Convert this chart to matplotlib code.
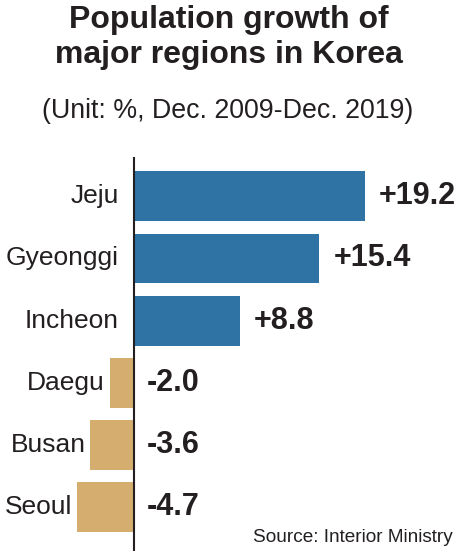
import matplotlib.pyplot as plt
import numpy as np

plt.rcParams.update({'font.family': ['Liberation Sans', 'DejaVu Sans']})

# ============================================================
# Data
# ============================================================
regions = ["Jeju", "Gyeonggi", "Incheon", "Daegu", "Busan", "Seoul"]
growth = [19.2, 15.4, 8.8, -2.0, -3.6, -4.7]
value_labels = ["+19.2", "+15.4", "+8.8", "-2.0", "-3.6", "-4.7"]

title_lines = ["Population growth of", "major regions in Korea"]
subtitle = "(Unit: %, Dec. 2009-Dec. 2019)"
source = "Source: Interior Ministry"

# ============================================================
# Style
# ============================================================
blue = "#2f72a4"
tan = "#d5ae6f"
ink = "#231f20"

fig = plt.figure(figsize=(4.58, 5.51), dpi=100)
ax = fig.add_axes([0, 0, 1, 1])

y = np.arange(len(regions))
colors = [blue if v > 0 else tan for v in growth]
ax.barh(y, growth, height=0.8, color=colors)

ax.set_xlim(-11.1, 26.9)
ax.set_ylim(5.703, -3.156)
ax.axis("off")

# vertical zero line
ax.axvline(0, ymin=0.002, ymax=0.713, color=ink, linewidth=1.5)

# category labels and values
for i, (name, v, lab) in enumerate(zip(regions, growth, value_labels)):
    left = min(v, 0)
    pad = -15 if v > 0 else -5
    ax.annotate(name, xy=(left, i), xytext=(pad, -7), textcoords="offset pixels",
                ha="right", va="baseline", fontsize=19, color=ink)
    right = max(v, 0)
    vpad = 14 if v > 0 else 13
    ax.annotate(lab, xy=(right, i), xytext=(vpad, -8), textcoords="offset pixels",
                ha="left", va="baseline", fontsize=22, fontweight="bold", color=ink)

# ============================================================
# Titles
# ============================================================
fig.text(0.5, 0.9486, title_lines[0], ha="center", va="baseline",
         fontsize=23, fontweight="bold", color=ink)
fig.text(0.5, 0.885, title_lines[1], ha="center", va="baseline",
         fontsize=23, fontweight="bold", color=ink)
fig.text(0.498, 0.7853, subtitle, ha="center", va="baseline",
         fontsize=19.3, color=ink)
fig.text(0.989, 0.0169, source, ha="right", va="baseline",
         fontsize=13.7, color=ink)

plt.savefig("out.png", dpi=100)
